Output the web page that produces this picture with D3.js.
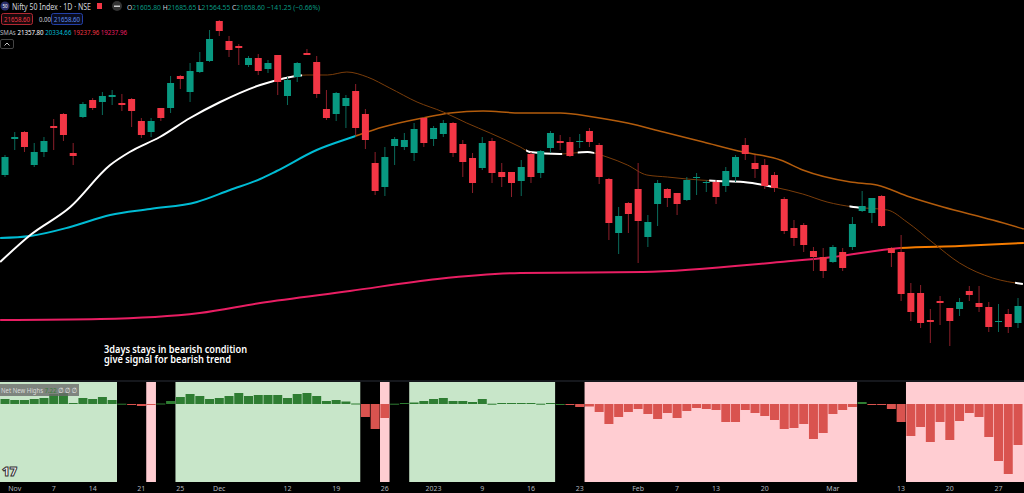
<!DOCTYPE html>
<html>
<head>
<meta charset="utf-8">
<script src="https://cdn.jsdelivr.net/npm/d3@7"></script>
<style>
body { margin: 0; background: #000; overflow: hidden; }
svg { display: block; font-family: "Noto Sans", "DejaVu Sans", sans-serif; }
</style>
</head>
<body>
<svg id="chart" width="1024" height="493"></svg>
<script>
// daily candles: open, high, low, close
var candles = [
 [21950,21990,21946,21986],[22022,22036,22000,22026],[22036,22038,21996,22006],[21970,22014,21966,21996],
 [21996,22026,21986,22018],[22048,22062,22000,22044],[22072,22074,22018,22030],[21994,22014,21970,21988],
 [22066,22096,22064,22092],[22100,22104,22080,22084],[22096,22116,22070,22108],[22106,22120,22090,22110],
 [22094,22112,22078,22090],[22102,22104,22046,22078],[22058,22064,22024,22030],[22036,22064,22026,22058],
 [22084,22084,22058,22064],[22084,22148,22074,22134],[22148,22150,22122,22142],[22116,22174,22096,22158],
 [22156,22196,22154,22176],[22178,22240,22176,22222],[22258,22260,22228,22238],[22218,22228,22186,22200],
 [22208,22212,22170,22204],[22170,22188,22166,22184],[22184,22192,22150,22158],[22162,22180,22154,22174],
 [22190,22190,22110,22136],[22108,22146,22090,22140],[22146,22176,22136,22174],[22194,22202,22190,22190],
 [22176,22188,22104,22112],[22082,22120,22060,22064],[22072,22116,22058,22114],[22088,22110,22044,22104],
 [22118,22132,22030,22044],[22072,22082,22002,22020],[21974,21996,21910,21918],[21926,22006,21908,21986],
 [22008,22026,21970,22022],[22006,22034,22000,22020],[21994,22054,21978,22042],[22064,22066,22006,22014],
 [22022,22048,22008,22044],[22032,22060,22026,22054],[22054,22056,21986,21994],[22012,22020,21946,21976],
 [21984,21994,21914,21934],[21964,22026,21960,22014],[22018,22024,21934,21954],[21956,21974,21926,21946],
 [21956,21956,21906,21934],[21938,21980,21908,21966],[21992,21996,21934,21946],[21954,22000,21944,21998],
 [22004,22038,21994,22034],[22018,22030,22000,22014],[22016,22026,21986,21988],[22016,22032,22004,22018],
 [22038,22044,22006,22016],[22010,22014,21932,21946],[21942,21944,21820,21854],[21834,21886,21792,21868],
 [21894,21896,21834,21872],[21922,21974,21774,21858],[21826,21870,21806,21856],[21892,21940,21848,21934],
 [21922,21924,21886,21904],[21914,21914,21870,21892],[21900,21946,21898,21940],[21944,21954,21910,21946],
 [21934,21940,21916,21936],[21936,21940,21892,21906],[21928,21966,21916,21958],[21946,21990,21936,21986],
 [22010,22024,21980,21992],[21974,21990,21944,21962],[21970,21982,21922,21928],[21950,21956,21916,21924],
 [21902,21906,21832,21838],[21844,21860,21808,21824],[21850,21854,21796,21810],[21798,21806,21758,21786],
 [21786,21804,21744,21758],[21776,21810,21774,21806],[21796,21804,21758,21764],[21806,21866,21800,21852],
 [21878,21918,21876,21888],[21874,21904,21854,21904],[21908,21910,21846,21848],[21804,21806,21766,21794],
 [21796,21830,21698,21712],[21714,21734,21658,21676],[21714,21730,21644,21654],[21660,21682,21614,21656],
 [21698,21708,21650,21694],[21684,21684,21608,21658],[21682,21704,21668,21696],[21718,21728,21698,21710],
 [21694,21728,21676,21686],[21686,21696,21636,21646],[21656,21692,21636,21658],[21672,21682,21634,21646],
 [21654,21704,21644,21688]
];

// moving averages, [day index, value]
var sma20 = [[-0.5,21776],[2.6,21830],[6.7,21886],[10.8,21970],[12.8,21996],[15.9,22026],[19,22064],[22.1,22096],
 [26.2,22130],[31,22150],[33.1,22150],[35.1,22156],[37.2,22146],[39.5,22124],[42.3,22096],[45,22076],[47.4,22054],
 [49.8,22034],[52.9,22006],[53.9,21996],[57,21992],[59.8,21996],[61.8,21986],[63.9,21970],[65.9,21950],[68,21946],
 [70,21942],[73.1,21938],[75.8,21936],[78.9,21926],[81.9,21912],[84.4,21896],[87.1,21886],[90.6,21880],[92.6,21856],
 [95.3,21814],[98,21774],[101.4,21744],[104.5,21732]];
var sma20White = [[-1,30.5],[53.5,57.2],[58.8,60.5],[72.3,79],[86.7,88.3],[103.7,106]];
var sma50 = [[-0.5,21824],[2.6,21828],[6.7,21846],[10.8,21870],[14.9,21882],[19.7,21896],[23.1,21920],[26.2,21942],
 [27.9,21958],[32,22000],[35.7,22026],[38.8,22046],[42.9,22064],[45.7,22074],[49.1,22078],[52.9,22074],[57,22074],
 [60.4,22066],[63.9,22054],[67.6,22036],[71.7,22016],[75.8,21996],[77.5,21990],[79.6,21980],[81.9,21960],[86.8,21936],
 [89.5,21930],[92.9,21906],[96.3,21886],[101.4,21860],[104.6,21842]];
var sma50Switch = 36;
var sma200 = [[-0.5,21660],[9.8,21662],[20,21674],[26.2,21694],[35.4,21718],[44.4,21742],[52.9,21754],[65.5,21756],
 [79.6,21776],[85,21786],[91.9,21804],[98,21808],[104.6,21814]];
var sma200Switch = 91.9;

// Net New Highs histogram
var netHighs = [5,4,4,5,6,10,11,1,6,5,7,4,0.3,-1,-2,-0.5,0.5,3,7,10,8,5,6,8,11,8,9,9,9,6,10,11,8,3,4,2.5,0.5,
 -13,-25,-14,0.3,1,1.5,3,5,6,3,3,2,5,0.3,1,1,1,1,0.3,1,0,-1,-3,-2.5,-8,-20,-13,-8,-5,-10,-15,-9,-14,-7,-4,-5,-6,
 -18,-18,-6,-9,-12,-16,-25,-24,-20,-35,-29,-10,-6,-3,2,-1,-0.3,-5,-18,-32,-23,-38,-18,-36,-17,-9,-13,-33,-57,-70,-41];
// background zones [from, to, state]
var zones = [[-1,11.5,'bull'],[11.5,14.5,'none'],[14.5,15.5,'bear'],[15.5,17.5,'none'],[17.5,36.5,'bull'],
 [36.5,38.5,'none'],[38.5,39.5,'bear'],[39.5,41.5,'none'],[41.5,56.5,'bull'],[56.5,59.5,'none'],
 [59.5,87.5,'bear'],[87.5,92.5,'none'],[92.5,106,'bear']];

var tickIdx = [1,5,9,14,18,22,29,34,39,44,49,54,59,65,69,73,78,85,92,97,102];
var tickLbl = ['Nov','7','14','21','25','Dec','12','19','26','2023','9','16','23','Feb','7','13','20','Mar','13','20','27'];

var svg = d3.select('#chart');
var x = d3.scaleLinear().domain([0, 104]).range([5, 1018]);
var y = d3.scaleLinear().domain([22300, 21620]).range([0, 340]);
var yi = d3.scaleLinear().domain([22, -78]).range([382, 482]);

var UP = '#089981', DOWN = '#f23645';

svg.append('rect').attr('width', 1024).attr('height', 493).attr('fill', '#000');

// moving averages
var line = d3.line().x(function(d) { return x(d[0]); }).y(function(d) { return y(d[1]); }).curve(d3.curveMonotoneX);
var defs = svg.append('defs');
function clip(id, ranges) {
    var c = defs.append('clipPath').attr('id', id);
    ranges.forEach(function(r) {
	c.append('rect').attr('x', x(r[0])).attr('width', x(r[1]) - x(r[0])).attr('y', 0).attr('height', 380);
    });
}
clip('c200a', [[-2, sma200Switch]]);
clip('c200b', [[sma200Switch, 110]]);
clip('c50a', [[-2, sma50Switch]]);
clip('c50b', [[sma50Switch, 110]]);
clip('c20w', sma20White);

svg.append('path').attr('d', line(sma200)).attr('fill', 'none').attr('stroke', '#e91e63').attr('stroke-width', 2).attr('clip-path', 'url(#c200a)');
svg.append('path').attr('d', line(sma200)).attr('fill', 'none').attr('stroke', '#f57c00').attr('stroke-width', 2).attr('clip-path', 'url(#c200b)');
svg.append('path').attr('d', line(sma50)).attr('fill', 'none').attr('stroke', '#00bcd4').attr('stroke-width', 2).attr('clip-path', 'url(#c50a)');
svg.append('path').attr('d', line(sma50)).attr('fill', 'none').attr('stroke', '#b35c0c').attr('stroke-width', 1.5).attr('clip-path', 'url(#c50b)');
svg.append('path').attr('d', line(sma20)).attr('fill', 'none').attr('stroke', '#7a3d0a').attr('stroke-width', 1);
svg.append('path').attr('d', line(sma20)).attr('fill', 'none').attr('stroke', '#ffffff').attr('stroke-width', 2).attr('clip-path', 'url(#c20w)');

// candles
var cg = svg.append('g')
    .selectAll('g')
    .data(candles)
    .enter()
    .append('g');
cg.append('line')
    .attr('x1', function(d, i) { return x(i); })
    .attr('x2', function(d, i) { return x(i); })
    .attr('y1', function(d) { return y(d[1]); })
    .attr('y2', function(d) { return y(d[2]); })
    .attr('stroke', function(d) { return d[3] >= d[0] ? '#0a6b5b' : '#8c1f2a'; })
    .attr('stroke-width', 1);
cg.append('rect')
    .attr('x', function(d, i) { return x(i) - 3.5; })
    .attr('width', 7)
    .attr('y', function(d) { return y(Math.max(d[0], d[3])); })
    .attr('height', function(d) { return Math.max(1, Math.abs(y(d[0]) - y(d[3]))); })
    .attr('fill', function(d) { return d[3] >= d[0] ? UP : DOWN; });

// fitted text helper
function ftext(xp, yp, size, len) {
    return svg.append('text').attr('x', xp).attr('y', yp).attr('font-size', size)
	.attr('textLength', len).attr('lengthAdjust', 'spacingAndGlyphs');
}

// annotation
ftext(104, 353, 10, 143).attr('fill', '#fff').attr('font-weight', 600).text('3days stays in bearish condition');
ftext(104, 363, 10, 127).attr('fill', '#fff').attr('font-weight', 600).text('give signal for bearish trend');

// indicator pane
svg.append('line').attr('x1', 0).attr('x2', 1024).attr('y1', 381).attr('y2', 381).attr('stroke', '#2a2e39');
svg.append('g').selectAll('rect').data(zones).enter().append('rect')
    .attr('x', function(d) { return x(d[0]); })
    .attr('width', function(d) { return x(d[1]) - x(d[0]); })
    .attr('y', 382).attr('height', 100)
    .attr('fill', function(d) { return d[2] == 'bull' ? '#c8e6c9' : d[2] == 'bear' ? '#ffcdd2' : '#000'; });
svg.append('g').selectAll('rect').data(netHighs).enter().append('rect')
    .attr('x', function(d, i) { return x(i) - 4.5; })
    .attr('width', 9)
    .attr('y', function(d) { return yi(Math.max(0, d)); })
    .attr('height', function(d) { return Math.max(1, Math.abs(yi(d) - yi(0))); })
    .attr('fill', function(d) { return d >= 0 ? '#2e7d32' : '#d9534f'; });

svg.append('rect').attr('x', 0).attr('y', 384).attr('width', 79).attr('height', 12).attr('fill', '#6b6b6b').attr('opacity', 0.8);
var lab = ftext(1, 393, 7.5, 76);
lab.append('tspan').attr('fill', '#dcdcdc').text('Net New Highs ');
lab.append('tspan').attr('fill', '#3a7d3a').text('7.22 ');
lab.append('tspan').attr('fill', '#eee').text('\u2205 \u2205 \u2205');
svg.append('text').attr('x', 2).attr('y', 476).attr('font-size', 13).attr('font-weight', 900)
    .attr('fill', '#fff').attr('stroke', '#333').attr('stroke-width', 1).text('17');

// x axis
svg.append('rect').attr('x', 0).attr('y', 482).attr('width', 1024).attr('height', 11).attr('fill', '#000');
svg.append('g').selectAll('text').data(tickIdx).enter().append('text')
    .attr('x', function(d) { return x(d); })
    .attr('y', 491)
    .attr('text-anchor', 'middle')
    .attr('font-size', 7)
    .attr('fill', '#b2b5be')
    .text(function(d, i) { return tickLbl[i]; });

// legend
svg.append('circle').attr('cx', 5).attr('cy', 6).attr('r', 4.5).attr('fill', '#2b2f6b');
svg.append('text').attr('x', 5).attr('y', 7.8).attr('text-anchor', 'middle').attr('font-size', 4.5).attr('fill', '#fff').text('50');
ftext(12, 9.5, 8, 79).attr('fill', '#d1d4dc').text('Nifty 50 Index \u00b7 1D \u00b7 NSE');
svg.append('rect').attr('x', 97).attr('y', 3).attr('width', 5).attr('height', 6).attr('fill', DOWN);
svg.append('circle').attr('cx', 117).attr('cy', 6).attr('r', 5).attr('fill', '#333');
svg.append('rect').attr('x', 114).attr('y', 5.5).attr('width', 6).attr('height', 1.5).attr('fill', '#ccc');
var ohlc = ftext(127, 9.5, 7.5, 193);
[['O', '21605.80'], ['H', '21685.65'], ['L', '21564.55'], ['C', '21658.60']].forEach(function(p) {
    ohlc.append('tspan').attr('fill', '#d1d4dc').text(p[0]);
    ohlc.append('tspan').attr('fill', UP).text(p[1] + ' ');
});
ohlc.append('tspan').attr('fill', UP).text('\u2212141.25 (\u22120.66%)');

svg.append('rect').attr('x', 1.5).attr('y', 13.5).attr('width', 31).attr('height', 11).attr('rx', 2).attr('fill', '#1a0a0c').attr('stroke', '#b22833');
ftext(4, 21.5, 7, 26).attr('fill', DOWN).text('21658.60');
ftext(39, 21.5, 7, 12).attr('fill', '#d1d4dc').text('0.00');
svg.append('rect').attr('x', 51.5).attr('y', 13.5).attr('width', 31).attr('height', 11).attr('rx', 2).attr('fill', '#0a0c1e').attr('stroke', '#2340a8');
ftext(54, 21.5, 7, 26).attr('fill', '#5b8def').text('21658.60');

var sm = ftext(0, 35, 7, 127);
sm.append('tspan').attr('fill', '#b2b5be').text('SMAs ');
sm.append('tspan').attr('fill', '#ffffff').text('21357.80 ');
sm.append('tspan').attr('fill', '#00bcd4').text('20334.66 ');
sm.append('tspan').attr('fill', '#f23645').text('19237.96 ');
sm.append('tspan').attr('fill', '#e91e63').text('19237.96');
svg.append('rect').attr('x', 0.5).attr('y', 39.5).attr('width', 13).attr('height', 9).attr('rx', 1.5).attr('fill', '#000').attr('stroke', '#444');
svg.append('path').attr('d', 'M4.5,45.5 L7,43 L9.5,45.5').attr('fill', 'none').attr('stroke', '#ccc');
</script>
</body>
</html>
